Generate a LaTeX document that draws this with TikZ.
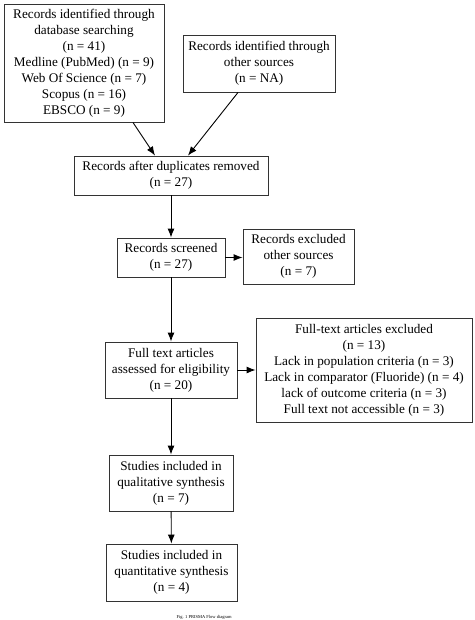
\documentclass[tikz,border=0pt]{standalone}
\usepackage{fontspec}
\setmainfont{Liberation Serif}
\usetikzlibrary{arrows.meta,calc}
\begin{document}
\begin{tikzpicture}[x=1pt,y=-1pt,
  box/.style={draw=black!80,line width=0.9pt,inner sep=0pt,align=center,
    font=\fontsize{13.2}{16}\selectfont},
  arr/.style={-{Latex[length=9pt,width=7pt]},line width=0.9pt}]
\useasboundingbox (0,0) rectangle (474,620);
\node[box,minimum width=160pt,minimum height=118pt] (A) at (84,63)
  {Records identified through\\database searching\\(n = 41)\\Medline (PubMed) (n = 9)\\Web Of Science (n = 7)\\Scopus (n = 16)\\EBSCO (n = 9)};
\node[box,minimum width=152pt,minimum height=57pt] (B) at (259,63.5)
  {Records identified through\\other sources\\(n = NA)};
\node[box,minimum width=194pt,minimum height=39pt] (C) at (171,175.5)
  {Records after duplicates removed\\(n = 27)};
\node[box,minimum width=108pt,minimum height=39pt] (D) at (171,257.5)
  {Records screened\\(n = 27)};
\node[box,minimum width=111pt,minimum height=55pt] (E) at (298.5,256.5)
  {Records excluded\\other sources\\(n = 7)};
\node[box,minimum width=132pt,minimum height=56pt] (F) at (171,370)
  {Full text articles\\assessed for eligibility\\(n = 20)};
\node[box,minimum width=216pt,minimum height=104pt] (G) at (364,370)
  {Full-text articles excluded\\(n = 13)\\Lack in population criteria (n = 3)\\Lack in comparator (Fluoride) (n = 4)\\lack of outcome criteria (n = 3)\\Full text not accessible (n = 3)};
\node[box,minimum width=124pt,minimum height=56pt] (H) at (171,483)
  {Studies included in\\qualitative synthesis\\(n = 7)};
\node[box,minimum width=131pt,minimum height=57pt] (I) at (171.5,572.5)
  {Studies included in\\quantitative synthesis\\(n = 4)};
\node[inner sep=0pt,font=\fontsize{4.5}{5}\selectfont] (cap) at (204,617) {Fig. 1 PRISMA Flow diagram};
\draw[arr] ([xshift=49pt]A.south) -- ([xshift=-16pt]C.north);
\draw[arr] ([xshift=-21pt]B.south) -- ([xshift=17pt]C.north);
\draw[arr] (C) -- (D);
\draw[arr] (D.east) -- (D.east -| E.west);
\draw[arr] (D) -- (F);
\draw[arr] (F.east) -- (F.east -| G.west);
\draw[arr] (F) -- (H);
\draw[arr] (H) -- (I);
\end{tikzpicture}
\end{document}
